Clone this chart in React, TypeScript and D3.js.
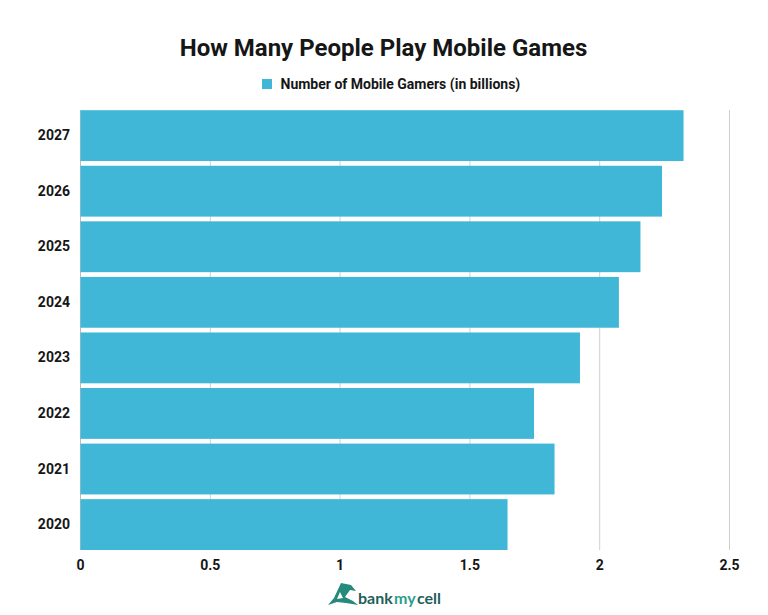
import React from "react";
import * as d3 from "d3";

const years = ["2027", "2026", "2025", "2024", "2023", "2022", "2021", "2020"];
const gamers = [2.323, 2.24, 2.157, 2.074, 1.924, 1.747, 1.826, 1.645];
const ticks = [0, 0.5, 1, 1.5, 2, 2.5];

const title = "How Many People Play Mobile Games";
const seriesName = "Number of Mobile Gamers (in billions)";

const width = 768;
const height = 615;
const font = "Roboto, sans-serif";
const barColor = "#41b7d7";
const textColor = "#161616";

const x = d3.scaleLinear().domain([0, 2.5]).range([80.5, 729.5]);
const y = d3.scaleBand().domain(years).range([107.7, 552.5]).paddingInner(0.085).paddingOuter(0.045);

export default function App() {
  return (
    <svg
      width={width}
      height={height}
      style={{ position: "absolute", left: 0, top: 0, background: "#fff" }}
      fontFamily={font}
    >
      <text x={383.5} y={56} textAnchor="middle" fontSize={24} fontWeight={700} fill={textColor}>
        {title}
      </text>

      {/* legend */}
      <rect x={262} y={79} width={10} height={10} fill={barColor} />
      <text x={280.5} y={89} fontSize={14} fontWeight={700} fill={textColor}>
        {seriesName}
      </text>

      {/* gridlines */}
      {ticks.map((t) => (
        <line key={t} x1={x(t)} x2={x(t)} y1={110} y2={550} stroke={t === 0 ? "#bdbdbd" : "#cfcfcf"} />
      ))}

      {years.map((year, i) => {
        const top = y(year)!;
        return (
          <g key={year}>
            <rect x={x(0)} y={top} width={x(gamers[i]) - x(0)} height={y.bandwidth()} fill={barColor} />
            <text x={70} y={top + y.bandwidth() / 2 + 4.5} textAnchor="end" fontSize={14} fontWeight={700} fill={textColor}>
              {year}
            </text>
          </g>
        );
      })}

      {ticks.map((t) => (
        <text key={t} x={x(t)} y={570} textAnchor="middle" fontSize={14} fontWeight={700} fill={textColor}>
          {t}
        </text>
      ))}

      {/* logo */}
      <g fontFamily="Lato, sans-serif" fontSize={16} fontWeight={700}>
        <path
          d="M341 583 L351 585 L356 591 L350 590 L345 597 L353 601 L358 605 L346 603 L337 602 L328 605 L334 598 Z M340 592 L337 599 L343 598 Z"
          fill="#25897c"
          fillRule="evenodd"
        />
        <text x={358} y={604} fill="#1f5f5a">
          bank
        </text>
        <text x={394} y={604} fill="#2c9d8e">
          my
        </text>
        <text x={417} y={604} fill="#1f5f5a">
          cell
        </text>
      </g>
    </svg>
  );
}
